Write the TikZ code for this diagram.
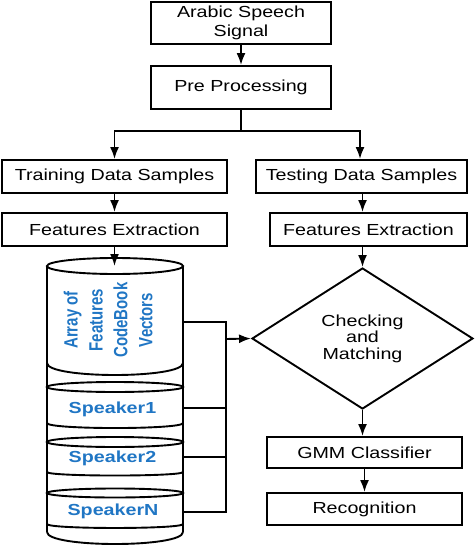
\documentclass[tikz,border=0pt]{standalone}
\usepackage{fontspec}
\setmainfont{Liberation Sans}[FakeStretch=1.23]
\newfontfamily\rotfont{Liberation Sans}
\usetikzlibrary{shapes.geometric,arrows.meta}
\definecolor{spkblue}{RGB}{32,118,196}
\tikzset{
  box/.style={draw, line width=1.9pt, inner sep=0pt, align=center, font=\fontsize{16}{19}\selectfont},
  conn/.style={line width=1.9pt},
  arr/.style={conn, -{Latex[length=12pt,width=9pt]}},
  spk/.style={text=spkblue, font=\fontsize{16}{19}\selectfont\bfseries},
  cyl/.style={line width=1.9pt},
}
\begin{document}
\begin{tikzpicture}[x=1pt,y=-1pt]
\useasboundingbox (0,0) rectangle (474,545);
% boxes
\node[box, minimum width=180pt, minimum height=42pt] (sig) at (241,23) {Arabic Speech\\Signal};
\node[box, minimum width=180pt, minimum height=43pt] (pre) at (241,87.5) {Pre Processing};
\node[box, minimum width=225pt, minimum height=33pt] (train) at (114.5,176.5) {Training Data Samples};
\node[box, minimum width=211pt, minimum height=33pt] (test) at (361.5,176.5) {Testing Data Samples};
\node[box, minimum width=225pt, minimum height=33pt] (fe1) at (114.5,229.5) {Features Extraction};
\node[box, minimum width=197pt, minimum height=33pt] (fe2) at (368.5,229.5) {Features Extraction};
\node[draw, diamond, line width=1.9pt, minimum width=221pt, minimum height=141pt, inner sep=0pt,
      shape aspect=1.57, align=center, font=\fontsize{16}{16.5}\selectfont] (dia) at (362.5,338.5) {Checking\\and\\Matching};
\node[box, minimum width=195pt, minimum height=31pt] (gmm) at (364.5,452.5) {GMM Classifier};
\node[box, minimum width=195pt, minimum height=32pt] (rec) at (364.5,509) {Recognition};
% cylinder
\coordinate (cyltop) at (115,266);
\draw[cyl] (47,266) -- (47,532) (183,266) -- (183,532);
\draw[cyl] (cyltop) ellipse[x radius=68, y radius=8];
\draw[cyl] (47,363) .. controls (47,379) and (183,379) .. (183,363);
\draw[cyl] (115,387) ellipse[x radius=68, y radius=5];
\draw[cyl] (47,423) .. controls (47,429.7) and (183,429.7) .. (183,423);
\draw[cyl] (115,442) ellipse[x radius=68, y radius=5];
\draw[cyl] (47,472) .. controls (47,476.7) and (183,476.7) .. (183,472);
\draw[cyl] (115,493) ellipse[x radius=68, y radius=4.5];
\draw[cyl] (47,524) .. controls (47,529.3) and (183,529.3) .. (183,524);
\draw[cyl] (47,532) .. controls (47,548) and (183,548) .. (183,532);
% cylinder texts
\node[rotate=90, text=spkblue, inner sep=0pt, font=\rotfont\fontsize{15}{19.5}\selectfont\bfseries] (codebook) at (110,320)
  {\scalebox{1}[1.28]{\begin{tabular}{@{}c@{}}Array of\\Features\\CodeBook\\Vectors\end{tabular}}};
\node[spk] (s1) at (112.5,409) {Speaker1};
\node[spk] (s2) at (112.5,458) {Speaker2};
\node[spk] (sn) at (113,511) {SpeakerN};
% connectors
\draw[arr] (sig) -- (pre);
\coordinate (split) at (241,131);
\draw[conn] (pre.south) -- (split);
\draw[arr] (split) -| (train.north);
\draw[arr] (split) -| ([xshift=-1.5pt]test.north);
\draw[arr] (train) -- (fe1);
\draw[arr] (fe1.south) -- (fe1.south |- cyltop);
\draw[arr] (test.south -| dia.north) -- (fe2.north -| dia.north);
\draw[arr] (fe2.south -| dia.north) -- (dia.north);
\draw[arr] (dia.south) -- (gmm.north -| dia.south);
\draw[arr] (gmm) -- (rec);
% bus from cylinder
\coordinate (b0) at (183,322);
\coordinate (b1) at (183,408);
\coordinate (b2) at (183,457);
\coordinate (b3) at (183,512);
\coordinate (bus) at (226,339);
\draw[conn] (b0) -- (b0 -| bus) -- (b3 -| bus) -- (b3);
\draw[conn] (b1) -- (b1 -| bus);
\draw[conn] (b2) -- (b2 -| bus);
\draw[arr] (bus) -- (dia.west);
\end{tikzpicture}
\end{document}
